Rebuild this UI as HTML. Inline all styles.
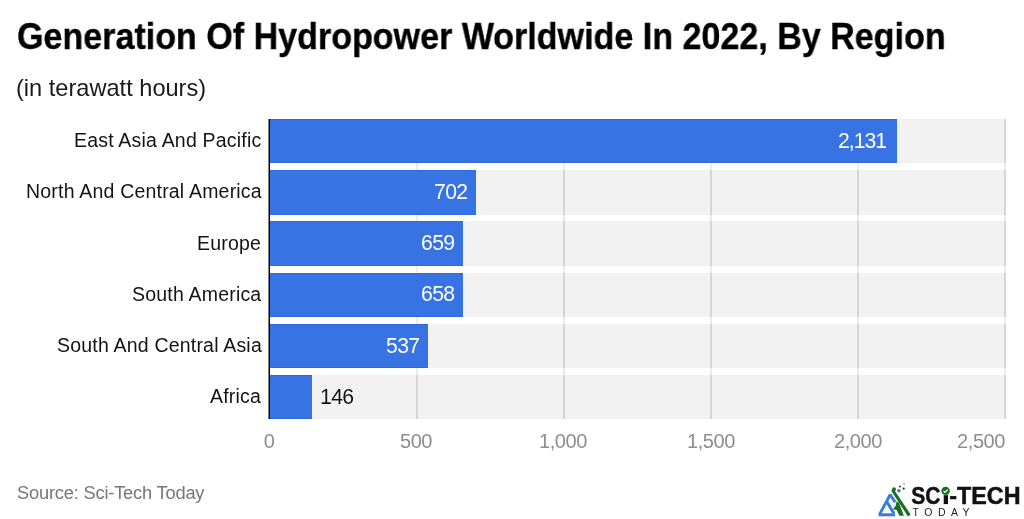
<!DOCTYPE html>
<html><head><meta charset="utf-8"><style>
html,body{margin:0;padding:0;background:#fff;}
body{width:1024px;height:519px;position:relative;overflow:hidden;font-family:"Liberation Sans",sans-serif;}
.a{position:absolute;white-space:nowrap;}
.t{position:absolute;white-space:nowrap;will-change:transform;}
</style></head><body>
<div class="t" style="left:16.80px;top:14.78px;font-size:36.40px;line-height:44px;color:#000;font-weight:700;letter-spacing:0.00px;transform:scaleX(0.9360);transform-origin:left;-webkit-text-stroke:0.35px #000;">Generation Of Hydropower Worldwide In 2022, By Region</div>
<div class="t" style="left:16.30px;top:74.12px;font-size:23.60px;line-height:28px;color:#1a1a1a;font-weight:400;letter-spacing:0.00px;transform:scaleX(1.0000);transform-origin:left;">(in terawatt hours)</div>
<div class="a" style="left:416px;top:119.0px;width:2px;height:300.4px;background:#ececec"></div>
<div class="a" style="left:563px;top:119.0px;width:2px;height:300.4px;background:#ececec"></div>
<div class="a" style="left:710px;top:119.0px;width:2px;height:300.4px;background:#ececec"></div>
<div class="a" style="left:857px;top:119.0px;width:2px;height:300.4px;background:#ececec"></div>
<div class="a" style="left:1004px;top:119.0px;width:2px;height:300.4px;background:#ececec"></div>
<div class="a" style="left:270.0px;width:736.0px;height:44.4px;background:#f2f2f2;top:119.0px"></div>
<div class="a" style="left:416px;top:119.0px;width:2px;height:44.4px;background:#d5d5d5"></div>
<div class="a" style="left:563px;top:119.0px;width:2px;height:44.4px;background:#d5d5d5"></div>
<div class="a" style="left:710px;top:119.0px;width:2px;height:44.4px;background:#d5d5d5"></div>
<div class="a" style="left:857px;top:119.0px;width:2px;height:44.4px;background:#d5d5d5"></div>
<div class="a" style="left:1004px;top:119.0px;width:2px;height:44.4px;background:#d5d5d5"></div>
<div class="a" style="left:270.0px;height:44.4px;background:#3873e3;box-shadow:inset 0 1px 0 #2f68e0,inset 0 -1px 0 #2f68e0;top:119.0px;width:626.9px"></div>
<div class="t" style="right:762.50px;top:129.14px;font-size:19.50px;line-height:23px;color:#141414;font-weight:400;letter-spacing:0.20px;transform:scaleX(1.0000);transform-origin:right;">East Asia And Pacific</div>
<div class="t" style="right:138.13px;top:127.75px;font-size:21.20px;line-height:25px;color:#fff;font-weight:400;letter-spacing:-1.00px;transform:scaleX(1.0000);transform-origin:right;">2,131</div>
<div class="a" style="left:270.0px;width:736.0px;height:44.4px;background:#f2f2f2;top:170.2px"></div>
<div class="a" style="left:416px;top:170.2px;width:2px;height:44.4px;background:#d5d5d5"></div>
<div class="a" style="left:563px;top:170.2px;width:2px;height:44.4px;background:#d5d5d5"></div>
<div class="a" style="left:710px;top:170.2px;width:2px;height:44.4px;background:#d5d5d5"></div>
<div class="a" style="left:857px;top:170.2px;width:2px;height:44.4px;background:#d5d5d5"></div>
<div class="a" style="left:1004px;top:170.2px;width:2px;height:44.4px;background:#d5d5d5"></div>
<div class="a" style="left:270.0px;height:44.4px;background:#3873e3;box-shadow:inset 0 1px 0 #2f68e0,inset 0 -1px 0 #2f68e0;top:170.2px;width:206.1px"></div>
<div class="t" style="right:762.50px;top:180.34px;font-size:19.50px;line-height:23px;color:#141414;font-weight:400;letter-spacing:0.20px;transform:scaleX(1.0000);transform-origin:right;">North And Central America</div>
<div class="t" style="right:556.33px;top:178.95px;font-size:21.20px;line-height:25px;color:#fff;font-weight:400;letter-spacing:-0.60px;transform:scaleX(1.0000);transform-origin:right;">702</div>
<div class="a" style="left:270.0px;width:736.0px;height:44.4px;background:#f2f2f2;top:221.4px"></div>
<div class="a" style="left:416px;top:221.4px;width:2px;height:44.4px;background:#d5d5d5"></div>
<div class="a" style="left:563px;top:221.4px;width:2px;height:44.4px;background:#d5d5d5"></div>
<div class="a" style="left:710px;top:221.4px;width:2px;height:44.4px;background:#d5d5d5"></div>
<div class="a" style="left:857px;top:221.4px;width:2px;height:44.4px;background:#d5d5d5"></div>
<div class="a" style="left:1004px;top:221.4px;width:2px;height:44.4px;background:#d5d5d5"></div>
<div class="a" style="left:270.0px;height:44.4px;background:#3873e3;box-shadow:inset 0 1px 0 #2f68e0,inset 0 -1px 0 #2f68e0;top:221.4px;width:193.4px"></div>
<div class="t" style="right:762.50px;top:231.54px;font-size:19.50px;line-height:23px;color:#141414;font-weight:400;letter-spacing:0.20px;transform:scaleX(1.0000);transform-origin:right;">Europe</div>
<div class="t" style="right:568.99px;top:230.15px;font-size:21.20px;line-height:25px;color:#fff;font-weight:400;letter-spacing:-0.60px;transform:scaleX(1.0000);transform-origin:right;">659</div>
<div class="a" style="left:270.0px;width:736.0px;height:44.4px;background:#f2f2f2;top:272.6px"></div>
<div class="a" style="left:416px;top:272.6px;width:2px;height:44.4px;background:#d5d5d5"></div>
<div class="a" style="left:563px;top:272.6px;width:2px;height:44.4px;background:#d5d5d5"></div>
<div class="a" style="left:710px;top:272.6px;width:2px;height:44.4px;background:#d5d5d5"></div>
<div class="a" style="left:857px;top:272.6px;width:2px;height:44.4px;background:#d5d5d5"></div>
<div class="a" style="left:1004px;top:272.6px;width:2px;height:44.4px;background:#d5d5d5"></div>
<div class="a" style="left:270.0px;height:44.4px;background:#3873e3;box-shadow:inset 0 1px 0 #2f68e0,inset 0 -1px 0 #2f68e0;top:272.6px;width:193.1px"></div>
<div class="t" style="right:762.50px;top:282.74px;font-size:19.50px;line-height:23px;color:#141414;font-weight:400;letter-spacing:0.20px;transform:scaleX(1.0000);transform-origin:right;">South America</div>
<div class="t" style="right:569.28px;top:281.35px;font-size:21.20px;line-height:25px;color:#fff;font-weight:400;letter-spacing:-0.60px;transform:scaleX(1.0000);transform-origin:right;">658</div>
<div class="a" style="left:270.0px;width:736.0px;height:44.4px;background:#f2f2f2;top:323.8px"></div>
<div class="a" style="left:416px;top:323.8px;width:2px;height:44.4px;background:#d5d5d5"></div>
<div class="a" style="left:563px;top:323.8px;width:2px;height:44.4px;background:#d5d5d5"></div>
<div class="a" style="left:710px;top:323.8px;width:2px;height:44.4px;background:#d5d5d5"></div>
<div class="a" style="left:857px;top:323.8px;width:2px;height:44.4px;background:#d5d5d5"></div>
<div class="a" style="left:1004px;top:323.8px;width:2px;height:44.4px;background:#d5d5d5"></div>
<div class="a" style="left:270.0px;height:44.4px;background:#3873e3;box-shadow:inset 0 1px 0 #2f68e0,inset 0 -1px 0 #2f68e0;top:323.8px;width:157.5px"></div>
<div class="t" style="right:762.50px;top:333.94px;font-size:19.50px;line-height:23px;color:#141414;font-weight:400;letter-spacing:0.20px;transform:scaleX(1.0000);transform-origin:right;">South And Central Asia</div>
<div class="t" style="right:604.91px;top:332.55px;font-size:21.20px;line-height:25px;color:#fff;font-weight:400;letter-spacing:-0.60px;transform:scaleX(1.0000);transform-origin:right;">537</div>
<div class="a" style="left:270.0px;width:736.0px;height:44.4px;background:#f2f2f2;top:375.0px"></div>
<div class="a" style="left:416px;top:375.0px;width:2px;height:44.4px;background:#d5d5d5"></div>
<div class="a" style="left:563px;top:375.0px;width:2px;height:44.4px;background:#d5d5d5"></div>
<div class="a" style="left:710px;top:375.0px;width:2px;height:44.4px;background:#d5d5d5"></div>
<div class="a" style="left:857px;top:375.0px;width:2px;height:44.4px;background:#d5d5d5"></div>
<div class="a" style="left:1004px;top:375.0px;width:2px;height:44.4px;background:#d5d5d5"></div>
<div class="a" style="left:270.0px;height:44.4px;background:#3873e3;box-shadow:inset 0 1px 0 #2f68e0,inset 0 -1px 0 #2f68e0;top:375.0px;width:42.3px"></div>
<div class="t" style="right:762.50px;top:385.14px;font-size:19.50px;line-height:23px;color:#141414;font-weight:400;letter-spacing:0.20px;transform:scaleX(1.0000);transform-origin:right;">Africa</div>
<div class="t" style="left:319.98px;top:383.95px;font-size:21.20px;line-height:25px;color:#111;font-weight:400;letter-spacing:-0.60px;transform:scaleX(1.0000);transform-origin:left;text-shadow:0 0 1px #fff,0 0 1px #fff;">146</div>
<div class="a" style="left:268px;top:119.0px;width:1px;height:300.4px;background:#808080"></div>
<div class="a" style="left:269px;top:119.0px;width:1px;height:300.4px;background:#000"></div>
<div class="t" style="left:269.00px;top:429.27px;font-size:20.00px;line-height:24px;color:#8e8e8e;font-weight:400;letter-spacing:-0.40px;transform:translateX(-50%) scaleX(1.0000);">0</div>
<div class="t" style="left:416.20px;top:429.27px;font-size:20.00px;line-height:24px;color:#8e8e8e;font-weight:400;letter-spacing:-0.40px;transform:translateX(-50%) scaleX(1.0000);">500</div>
<div class="t" style="left:563.40px;top:429.27px;font-size:20.00px;line-height:24px;color:#8e8e8e;font-weight:400;letter-spacing:-0.40px;transform:translateX(-50%) scaleX(1.0000);">1,000</div>
<div class="t" style="left:710.60px;top:429.27px;font-size:20.00px;line-height:24px;color:#8e8e8e;font-weight:400;letter-spacing:-0.40px;transform:translateX(-50%) scaleX(1.0000);">1,500</div>
<div class="t" style="left:857.80px;top:429.27px;font-size:20.00px;line-height:24px;color:#8e8e8e;font-weight:400;letter-spacing:-0.40px;transform:translateX(-50%) scaleX(1.0000);">2,000</div>
<div class="t" style="right:19.20px;top:429.27px;font-size:20.00px;line-height:24px;color:#8e8e8e;font-weight:400;letter-spacing:-0.40px;transform:scaleX(1.0000);transform-origin:right;">2,500</div>
<div class="t" style="left:16.50px;top:481.86px;font-size:18.30px;line-height:22px;color:#777;font-weight:400;letter-spacing:-0.20px;transform:scaleX(1.0000);transform-origin:left;">Source: Sci-Tech Today</div>
<svg class="a" style="left:864px;top:470px;will-change:transform" width="160" height="49" viewBox="864 470 160 49">
<g fill="none" stroke="#3b7bd8" stroke-width="3.0" stroke-linejoin="bevel" stroke-linecap="butt">
<polyline points="879.6,514.4 890.2,494.6 895.2,502.2"/>
<polyline points="886.4,501.0 893.9,513.6"/>
<line x1="878.6" y1="514.8" x2="895" y2="514.8"/>
</g>
<g fill="#17701f">
<polygon points="891.2,490.8 893.8,489.2 910.6,514.4 908,516.4"/>
<circle cx="894" cy="489.2" r="1.9"/>
<polygon points="896.6,501.2 899,502.8 903.9,515.8 899.4,515.8 896.6,510 893,509.2 895.8,505.4"/>
<circle cx="903.7" cy="488.6" r="1.1" fill="#0d3d12"/>
</g>
<circle cx="898.9" cy="490.7" r="1.8" fill="#3b7bd8"/>
<circle cx="899.9" cy="486.5" r="0.9" fill="#222"/>
<circle cx="904.1" cy="484.1" r="0.8" fill="#4a8ae0"/>
<text x="911.2" y="503.8" font-family="Liberation Sans" font-weight="700" font-size="23.6" textLength="29.2" lengthAdjust="spacingAndGlyphs" fill="#111" stroke="#111" stroke-width="0.5">SC</text>
<rect x="943.7" y="495.2" width="4.3" height="8.9" fill="#111"/>
<circle cx="945.6" cy="490.9" r="4.2" fill="#17701f"/>
<polyline points="943.6,491 945,492.5 947.8,489.6" fill="none" stroke="#fff" stroke-width="1.2"/>
<text x="949.3" y="503.8" font-family="Liberation Sans" font-weight="700" font-size="23.6" textLength="71.2" lengthAdjust="spacingAndGlyphs" fill="#111" stroke="#111" stroke-width="0.5">-TECH</text>
<text x="912.6" y="516.2" font-family="Liberation Sans" font-size="10.5" textLength="57" lengthAdjust="spacing" fill="#222">TODAY</text>
</svg>
</body></html>
